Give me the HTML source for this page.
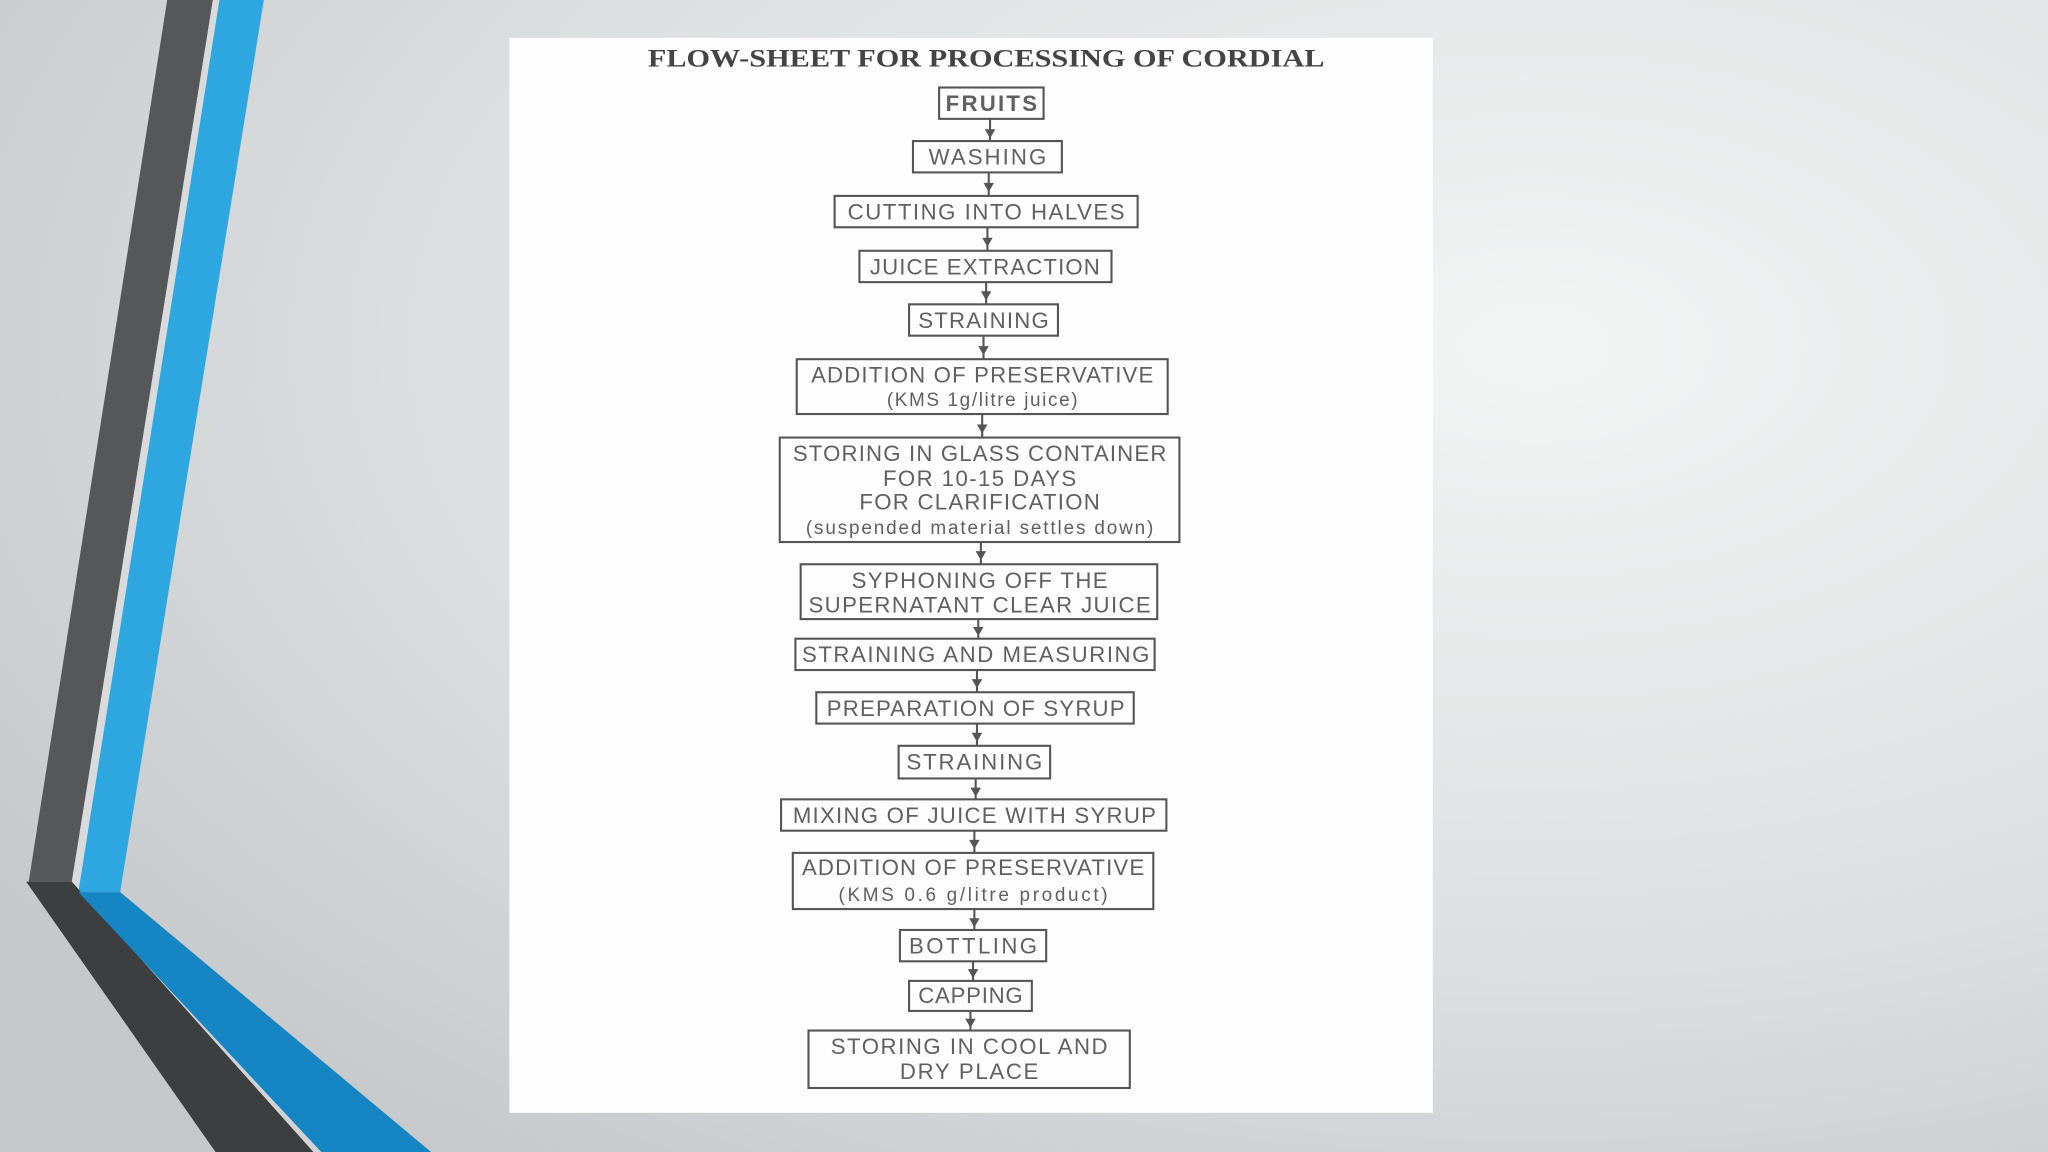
<!DOCTYPE html>
<html><head><meta charset="utf-8"><style>
html,body{margin:0;padding:0;width:2048px;height:1152px;overflow:hidden}
svg{display:block}
</style></head><body>
<svg width="2048" height="1152" viewBox="0 0 1568 882" preserveAspectRatio="none">
<defs>
<radialGradient id="bg" cx="0.75" cy="0.3" r="0.9">
<stop offset="0" stop-color="#f3f4f4"/><stop offset="0.6" stop-color="#dcdfe0"/><stop offset="1" stop-color="#c4c8ca"/>
</radialGradient>
</defs>
<rect width="1568" height="882" fill="url(#bg)"/>
<polygon points="128,0 163,0 55,675 22,675" fill="#555759"/>
<polygon points="163,0 168,0 60,683 55,675" fill="#d8dadb"/>
<polygon points="168,0 202,0 92,683 60,683" fill="#2ea7e0"/>
<polygon points="20,675 55,675 240,882 165,882" fill="#3d3e40"/>
<polygon points="55,675 62,683 246,882 240,882" fill="#d0d2d3"/>
<polygon points="60,683 92,683 330,882 246,882" fill="#1585c4"/>
<rect x="390" y="29" width="707" height="823" fill="#fdfdfd"/>
<text x="755" y="51" text-anchor="middle" font-family="Liberation Serif, serif" font-weight="bold" font-size="19" fill="#444" textLength="518" lengthAdjust="spacingAndGlyphs">FLOW-SHEET FOR PROCESSING OF CORDIAL</text>
<g fill="none" stroke="#555" stroke-width="1.6">
<rect x="719" y="67" width="80" height="24"/>
<rect x="699" y="108" width="114" height="24"/>
<rect x="639" y="150" width="232" height="24"/>
<rect x="658" y="192" width="193" height="24"/>
<rect x="696" y="233" width="114" height="24"/>
<rect x="610" y="275" width="284" height="42"/>
<rect x="597" y="335" width="306" height="80"/>
<rect x="613" y="432" width="273" height="42"/>
<rect x="609" y="489" width="275" height="24"/>
<rect x="625" y="530" width="243" height="24"/>
<rect x="688" y="571" width="116" height="25"/>
<rect x="598" y="612" width="295" height="24"/>
<rect x="607" y="653" width="276" height="43"/>
<rect x="689" y="712" width="112" height="24"/>
<rect x="696" y="751" width="94" height="23"/>
<rect x="619" y="789" width="246" height="44"/>
<path d="M758 91V108M757 132V150M756 174V192M755 216V233M753 257V275M752 317V335M751 415V432M749 474V489M748 513V530M748 554V571M747 596V612M746 636V653M746 696V712M745 736V751M743 774V789"/>
</g>
<g fill="#555">
<polygon points="754,99 762,99 758,106"/><polygon points="753,140 761,140 757,147"/><polygon points="752,182 760,182 756,189"/><polygon points="751,223 759,223 755,230"/><polygon points="749,265 757,265 753,272"/><polygon points="748,325 756,325 752,332"/><polygon points="747,422 755,422 751,429"/><polygon points="745,480 753,480 749,487"/><polygon points="744,520 752,520 748,527"/><polygon points="744,561 752,561 748,568"/><polygon points="743,603 751,603 747,610"/><polygon points="742,643 750,643 746,650"/><polygon points="742,703 750,703 746,710"/><polygon points="741,742 749,742 745,749"/><polygon points="739,780 747,780 743,787"/>
</g>
<g font-family="Liberation Sans, sans-serif" font-size="17" fill="#606060" text-anchor="middle" lengthAdjust="spacingAndGlyphs">
<text x="759" y="85" textLength="70" font-weight="bold">FRUITS</text>
<text x="756" y="126" textLength="90">WASHING</text>
<text x="755" y="168" textLength="212">CUTTING INTO HALVES</text>
<text x="754" y="210" textLength="176">JUICE EXTRACTION</text>
<text x="753" y="251" textLength="100">STRAINING</text>
<text x="752" y="293" textLength="262">ADDITION OF PRESERVATIVE</text>
<text x="752" y="311" textLength="146" font-size="14.5">(KMS 1g/litre juice)</text>
<text x="750" y="353" textLength="286">STORING IN GLASS CONTAINER</text>
<text x="750" y="372" textLength="148">FOR 10-15 DAYS</text>
<text x="750" y="390" textLength="184">FOR CLARIFICATION</text>
<text x="750" y="409" textLength="266" font-size="14.5">(suspended material settles down)</text>
<text x="750" y="450" textLength="196">SYPHONING OFF THE</text>
<text x="750" y="469" textLength="262">SUPERNATANT CLEAR JUICE</text>
<text x="747" y="507" textLength="266">STRAINING AND MEASURING</text>
<text x="747" y="548" textLength="228">PREPARATION OF SYRUP</text>
<text x="746" y="589" textLength="104">STRAINING</text>
<text x="746" y="630" textLength="278">MIXING OF JUICE WITH SYRUP</text>
<text x="745" y="670" textLength="262">ADDITION OF PRESERVATIVE</text>
<text x="745" y="690" textLength="206" font-size="14.5">(KMS 0.6 g/litre product)</text>
<text x="745" y="730" textLength="98">BOTTLING</text>
<text x="743" y="768" textLength="80">CAPPING</text>
<text x="742" y="807" textLength="212">STORING IN COOL AND</text>
<text x="742" y="826" textLength="106">DRY PLACE</text>
</g>
</svg>
</body></html>
